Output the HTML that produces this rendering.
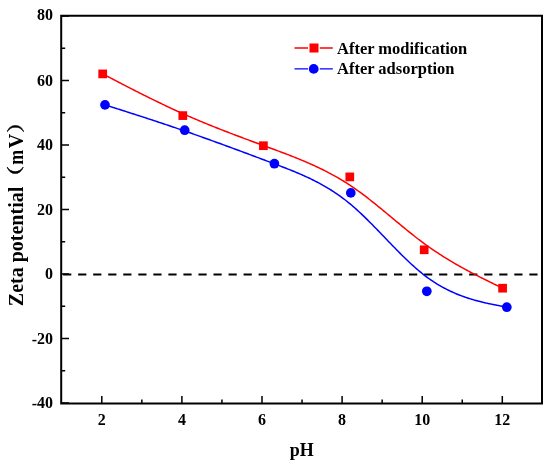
<!DOCTYPE html>
<html><head><meta charset="utf-8"><title>Zeta potential vs pH</title>
<style>
html,body{margin:0;padding:0;background:#fff;width:550px;height:469px;overflow:hidden;}
svg{display:block;}
</style></head><body>
<svg width="550" height="469" viewBox="0 0 550 469">
<line x1="63.1" y1="274.4" x2="541" y2="274.4" stroke="#000" stroke-width="2" stroke-dasharray="8.2 6.84"/>
<path d="M102.70,73.90 L102.70,73.90 L102.70,73.90 L102.70,73.90 L102.70,73.90 L102.71,73.90 L102.71,73.91 L102.72,73.91 L102.73,73.92 L102.75,73.92 L102.77,73.93 L102.79,73.95 L102.81,73.96 L102.84,73.97 L102.88,73.99 L102.92,74.01 L102.97,74.04 L103.02,74.07 L103.08,74.10 L103.15,74.13 L103.22,74.17 L103.30,74.21 L103.39,74.26 L103.49,74.31 L103.60,74.37 L103.72,74.43 L103.84,74.49 L103.98,74.57 L104.13,74.64 L104.29,74.73 L104.46,74.81 L104.64,74.91 L104.83,75.01 L105.04,75.12 L105.25,75.23 L105.49,75.35 L105.73,75.48 L105.99,75.61 L106.27,75.76 L106.56,75.91 L106.86,76.07 L107.18,76.23 L107.52,76.41 L107.87,76.59 L108.24,76.78 L108.62,76.98 L109.03,77.19 L109.45,77.41 L109.89,77.64 L110.35,77.88 L110.83,78.13 L111.32,78.39 L111.84,78.66 L112.38,78.94 L112.94,79.23 L113.51,79.53 L114.12,79.84 L114.74,80.17 L115.38,80.50 L116.05,80.85 L116.74,81.21 L117.45,81.58 L118.19,81.96 L118.95,82.36 L119.72,82.76 L120.52,83.18 L121.34,83.60 L122.18,84.04 L123.04,84.48 L123.92,84.94 L124.82,85.40 L125.74,85.88 L126.68,86.36 L127.63,86.85 L128.60,87.35 L129.59,87.86 L130.60,88.38 L131.62,88.90 L132.66,89.43 L133.71,89.97 L134.78,90.51 L135.86,91.06 L136.96,91.62 L138.08,92.18 L139.20,92.75 L140.34,93.33 L141.49,93.91 L142.66,94.49 L143.84,95.08 L145.03,95.67 L146.23,96.27 L147.44,96.87 L148.66,97.48 L149.89,98.09 L151.13,98.70 L152.38,99.32 L153.64,99.93 L154.91,100.55 L156.19,101.18 L157.48,101.80 L158.77,102.43 L160.07,103.05 L161.38,103.68 L162.69,104.31 L164.01,104.94 L165.33,105.57 L166.66,106.20 L168.00,106.83 L169.34,107.46 L170.68,108.09 L172.03,108.71 L173.38,109.34 L174.73,109.97 L176.08,110.59 L177.44,111.21 L178.80,111.83 L180.16,112.44 L181.52,113.06 L182.88,113.67 L184.25,114.27 L185.61,114.88 L186.97,115.48 L188.33,116.07 L189.69,116.67 L191.06,117.26 L192.42,117.85 L193.79,118.43 L195.15,119.02 L196.51,119.60 L197.88,120.17 L199.24,120.75 L200.61,121.32 L201.98,121.89 L203.34,122.45 L204.71,123.02 L206.08,123.58 L207.45,124.14 L208.81,124.70 L210.18,125.25 L211.55,125.81 L212.92,126.36 L214.30,126.91 L215.67,127.45 L217.04,128.00 L218.42,128.54 L219.79,129.08 L221.17,129.62 L222.54,130.16 L223.92,130.70 L225.30,131.24 L226.68,131.77 L228.06,132.30 L229.44,132.83 L230.82,133.36 L232.20,133.89 L233.59,134.42 L234.97,134.95 L236.36,135.47 L237.75,136.00 L239.14,136.52 L240.53,137.05 L241.92,137.57 L243.31,138.09 L244.70,138.61 L246.10,139.13 L247.50,139.65 L248.89,140.17 L250.29,140.69 L251.69,141.21 L253.10,141.73 L254.50,142.25 L255.90,142.77 L257.31,143.29 L258.72,143.81 L260.13,144.33 L261.54,144.84 L262.95,145.36 L264.37,145.88 L265.78,146.40 L267.20,146.92 L268.62,147.44 L270.04,147.97 L271.46,148.49 L272.89,149.01 L274.31,149.54 L275.73,150.07 L277.16,150.60 L278.59,151.13 L280.02,151.66 L281.44,152.20 L282.87,152.74 L284.30,153.28 L285.73,153.82 L287.16,154.37 L288.60,154.92 L290.03,155.48 L291.46,156.04 L292.89,156.60 L294.32,157.17 L295.75,157.74 L297.18,158.32 L298.61,158.90 L300.04,159.48 L301.47,160.08 L302.90,160.67 L304.33,161.28 L305.76,161.89 L307.18,162.50 L308.61,163.12 L310.03,163.75 L311.46,164.38 L312.88,165.02 L314.30,165.67 L315.72,166.33 L317.14,166.99 L318.56,167.66 L319.97,168.34 L321.39,169.02 L322.80,169.72 L324.21,170.42 L325.61,171.13 L327.02,171.85 L328.42,172.58 L329.83,173.32 L331.22,174.07 L332.62,174.83 L334.01,175.59 L335.41,176.37 L336.80,177.16 L338.18,177.96 L339.56,178.77 L340.95,179.58 L342.32,180.41 L343.70,181.26 L345.07,182.11 L346.44,182.97 L347.80,183.85 L349.16,184.74 L350.52,185.64 L351.87,186.55 L353.22,187.47 L354.57,188.40 L355.92,189.35 L357.26,190.30 L358.60,191.26 L359.93,192.23 L361.27,193.21 L362.60,194.20 L363.93,195.19 L365.25,196.20 L366.58,197.21 L367.90,198.22 L369.22,199.25 L370.53,200.27 L371.85,201.31 L373.16,202.35 L374.47,203.40 L375.78,204.45 L377.08,205.50 L378.39,206.56 L379.69,207.62 L380.99,208.68 L382.29,209.75 L383.59,210.82 L384.89,211.89 L386.19,212.96 L387.48,214.04 L388.77,215.11 L390.07,216.19 L391.36,217.26 L392.65,218.34 L393.94,219.41 L395.23,220.49 L396.52,221.56 L397.81,222.63 L399.09,223.70 L400.38,224.76 L401.67,225.83 L402.96,226.89 L404.24,227.94 L405.53,229.00 L406.81,230.04 L408.10,231.09 L409.39,232.12 L410.67,233.16 L411.96,234.18 L413.25,235.20 L414.54,236.22 L415.83,237.23 L417.12,238.23 L418.40,239.22 L419.70,240.20 L420.99,241.18 L422.28,242.14 L423.57,243.10 L424.87,244.05 L426.16,244.99 L427.46,245.92 L428.75,246.83 L430.05,247.74 L431.35,248.64 L432.64,249.53 L433.94,250.41 L435.23,251.28 L436.52,252.14 L437.81,252.98 L439.09,253.82 L440.37,254.65 L441.65,255.47 L442.92,256.28 L444.19,257.07 L445.46,257.86 L446.72,258.64 L447.97,259.40 L449.22,260.16 L450.46,260.91 L451.69,261.64 L452.92,262.37 L454.14,263.08 L455.35,263.79 L456.55,264.48 L457.75,265.17 L458.93,265.84 L460.11,266.51 L461.27,267.16 L462.43,267.80 L463.57,268.43 L464.70,269.05 L465.82,269.67 L466.93,270.27 L468.03,270.86 L469.11,271.44 L470.18,272.00 L471.23,272.56 L472.28,273.11 L473.30,273.65 L474.32,274.17 L475.31,274.69 L476.29,275.19 L477.26,275.69 L478.21,276.17 L479.14,276.64 L480.05,277.11 L480.95,277.56 L481.83,278.00 L482.69,278.43 L483.53,278.85 L484.35,279.25 L485.16,279.65 L485.94,280.04 L486.70,280.41 L487.44,280.77 L488.16,281.13 L488.86,281.47 L489.53,281.80 L490.19,282.12 L490.82,282.43 L491.43,282.73 L492.01,283.02 L492.58,283.29 L493.13,283.56 L493.65,283.82 L494.16,284.07 L494.65,284.30 L495.11,284.53 L495.56,284.75 L495.99,284.96 L496.41,285.17 L496.80,285.36 L497.18,285.55 L497.54,285.72 L497.89,285.89 L498.22,286.05 L498.53,286.21 L498.83,286.35 L499.11,286.49 L499.38,286.62 L499.63,286.75 L499.87,286.86 L500.10,286.98 L500.31,287.08 L500.52,287.18 L500.70,287.27 L500.88,287.36 L501.05,287.44 L501.20,287.52 L501.35,287.59 L501.48,287.65 L501.61,287.71 L501.72,287.77 L501.83,287.82 L501.92,287.87 L502.01,287.91 L502.09,287.95 L502.16,287.99 L502.23,288.02 L502.29,288.05 L502.34,288.07 L502.39,288.09 L502.43,288.11 L502.46,288.13 L502.49,288.15 L502.52,288.16 L502.54,288.17 L502.55,288.18 L502.57,288.18 L502.58,288.19 L502.59,288.19 L502.59,288.20 L502.60,288.20 L502.60,288.20 L502.60,288.20 L502.60,288.20 L502.60,288.20" fill="none" stroke="#ff0000" stroke-width="1.5"/>
<path d="M105.00,104.90 L105.00,104.90 L105.00,104.90 L105.00,104.90 L105.00,104.90 L105.01,104.90 L105.01,104.90 L105.02,104.91 L105.03,104.91 L105.05,104.91 L105.06,104.92 L105.09,104.93 L105.11,104.94 L105.14,104.95 L105.18,104.96 L105.22,104.97 L105.26,104.98 L105.32,105.00 L105.38,105.02 L105.44,105.04 L105.52,105.06 L105.60,105.09 L105.69,105.12 L105.79,105.15 L105.89,105.18 L106.01,105.22 L106.14,105.26 L106.27,105.30 L106.42,105.35 L106.58,105.40 L106.75,105.45 L106.93,105.51 L107.12,105.57 L107.32,105.64 L107.54,105.71 L107.77,105.78 L108.02,105.86 L108.28,105.94 L108.55,106.03 L108.84,106.12 L109.14,106.21 L109.46,106.32 L109.79,106.42 L110.14,106.53 L110.51,106.65 L110.89,106.77 L111.30,106.90 L111.71,107.03 L112.15,107.17 L112.61,107.32 L113.08,107.47 L113.58,107.62 L114.09,107.79 L114.63,107.96 L115.18,108.13 L115.76,108.32 L116.36,108.51 L116.98,108.70 L117.62,108.91 L118.28,109.12 L118.97,109.33 L119.68,109.56 L120.41,109.79 L121.16,110.03 L121.94,110.28 L122.74,110.53 L123.55,110.79 L124.39,111.06 L125.25,111.33 L126.13,111.61 L127.02,111.90 L127.94,112.19 L128.87,112.49 L129.83,112.79 L130.80,113.10 L131.79,113.42 L132.80,113.74 L133.82,114.07 L134.86,114.41 L135.92,114.75 L136.99,115.09 L138.08,115.44 L139.19,115.80 L140.31,116.16 L141.44,116.53 L142.59,116.90 L143.75,117.28 L144.93,117.66 L146.12,118.05 L147.32,118.44 L148.54,118.84 L149.77,119.24 L151.01,119.65 L152.26,120.06 L153.52,120.48 L154.80,120.90 L156.08,121.32 L157.38,121.75 L158.68,122.18 L160.00,122.62 L161.32,123.06 L162.65,123.50 L164.00,123.95 L165.35,124.40 L166.71,124.86 L168.07,125.32 L169.44,125.78 L170.82,126.25 L172.21,126.72 L173.60,127.19 L175.00,127.66 L176.41,128.14 L177.82,128.62 L179.23,129.11 L180.65,129.59 L182.07,130.08 L183.50,130.57 L184.93,131.07 L186.37,131.57 L187.80,132.07 L189.24,132.57 L190.69,133.07 L192.13,133.58 L193.58,134.09 L195.03,134.60 L196.48,135.11 L197.93,135.62 L199.39,136.14 L200.85,136.66 L202.31,137.18 L203.77,137.70 L205.23,138.22 L206.69,138.75 L208.16,139.27 L209.63,139.80 L211.09,140.33 L212.56,140.86 L214.03,141.39 L215.50,141.92 L216.97,142.46 L218.44,142.99 L219.92,143.53 L221.39,144.06 L222.86,144.60 L224.33,145.14 L225.80,145.68 L227.27,146.22 L228.75,146.76 L230.22,147.30 L231.69,147.84 L233.16,148.39 L234.63,148.93 L236.09,149.47 L237.56,150.02 L239.03,150.56 L240.49,151.10 L241.96,151.65 L243.42,152.19 L244.88,152.73 L246.34,153.28 L247.79,153.82 L249.25,154.37 L250.70,154.91 L252.15,155.45 L253.60,155.99 L255.05,156.54 L256.49,157.08 L257.93,157.62 L259.37,158.16 L260.81,158.70 L262.24,159.24 L263.67,159.78 L265.10,160.31 L266.52,160.85 L267.94,161.38 L269.36,161.92 L270.77,162.45 L272.18,162.98 L273.59,163.51 L274.99,164.04 L276.39,164.57 L277.78,165.10 L279.18,165.63 L280.56,166.16 L281.95,166.69 L283.33,167.23 L284.70,167.76 L286.08,168.29 L287.45,168.83 L288.82,169.37 L290.18,169.92 L291.54,170.46 L292.90,171.02 L294.26,171.57 L295.61,172.13 L296.96,172.70 L298.31,173.27 L299.66,173.84 L301.00,174.42 L302.34,175.01 L303.68,175.60 L305.01,176.20 L306.34,176.81 L307.67,177.43 L309.00,178.05 L310.33,178.69 L311.65,179.33 L312.98,179.98 L314.30,180.64 L315.61,181.31 L316.93,181.99 L318.25,182.68 L319.56,183.38 L320.87,184.09 L322.18,184.82 L323.49,185.56 L324.80,186.30 L326.10,187.07 L327.41,187.84 L328.71,188.63 L330.01,189.43 L331.31,190.25 L332.61,191.08 L333.91,191.92 L335.21,192.79 L336.51,193.66 L337.80,194.55 L339.10,195.46 L340.39,196.39 L341.69,197.33 L342.98,198.29 L344.27,199.27 L345.57,200.26 L346.86,201.28 L348.15,202.31 L349.44,203.36 L350.73,204.43 L352.02,205.52 L353.32,206.63 L354.61,207.76 L355.90,208.91 L357.19,210.07 L358.48,211.25 L359.77,212.45 L361.06,213.66 L362.36,214.88 L363.65,216.12 L364.94,217.37 L366.23,218.63 L367.52,219.90 L368.81,221.18 L370.11,222.47 L371.40,223.78 L372.69,225.08 L373.98,226.40 L375.28,227.72 L376.57,229.05 L377.86,230.39 L379.16,231.72 L380.45,233.06 L381.75,234.41 L383.04,235.76 L384.34,237.10 L385.63,238.45 L386.93,239.80 L388.23,241.15 L389.52,242.50 L390.82,243.84 L392.12,245.18 L393.42,246.52 L394.72,247.85 L396.02,249.18 L397.32,250.50 L398.62,251.82 L399.92,253.12 L401.23,254.42 L402.53,255.71 L403.84,256.99 L405.14,258.26 L406.45,259.52 L407.75,260.77 L409.06,262.00 L410.37,263.23 L411.68,264.43 L412.99,265.62 L414.30,266.80 L415.61,267.96 L416.93,269.11 L418.24,270.23 L419.55,271.34 L420.87,272.43 L422.19,273.49 L423.51,274.54 L424.82,275.57 L426.15,276.57 L427.47,277.55 L428.79,278.51 L430.11,279.44 L431.44,280.35 L432.76,281.24 L434.08,282.10 L435.40,282.95 L436.73,283.77 L438.04,284.57 L439.36,285.35 L440.68,286.11 L441.99,286.84 L443.30,287.56 L444.60,288.26 L445.90,288.94 L447.20,289.60 L448.49,290.24 L449.77,290.86 L451.05,291.46 L452.33,292.05 L453.59,292.62 L454.85,293.17 L456.10,293.70 L457.35,294.22 L458.58,294.72 L459.81,295.20 L461.03,295.67 L462.24,296.13 L463.44,296.57 L464.63,296.99 L465.80,297.40 L466.97,297.80 L468.13,298.18 L469.27,298.55 L470.40,298.91 L471.52,299.25 L472.62,299.59 L473.72,299.90 L474.79,300.21 L475.86,300.51 L476.90,300.79 L477.94,301.07 L478.96,301.33 L479.96,301.59 L480.94,301.83 L481.91,302.07 L482.86,302.29 L483.79,302.51 L484.71,302.72 L485.61,302.92 L486.48,303.11 L487.34,303.30 L488.18,303.48 L489.00,303.65 L489.80,303.81 L490.58,303.97 L491.33,304.12 L492.07,304.27 L492.78,304.41 L493.47,304.55 L494.13,304.68 L494.78,304.81 L495.40,304.93 L496.00,305.05 L496.58,305.17 L497.13,305.28 L497.67,305.39 L498.19,305.49 L498.68,305.59 L499.16,305.68 L499.62,305.77 L500.06,305.86 L500.48,305.94 L500.88,306.02 L501.27,306.10 L501.64,306.17 L501.99,306.24 L502.33,306.31 L502.65,306.37 L502.95,306.43 L503.24,306.49 L503.51,306.55 L503.77,306.60 L504.02,306.65 L504.25,306.69 L504.47,306.74 L504.67,306.78 L504.87,306.82 L505.05,306.85 L505.22,306.89 L505.37,306.92 L505.52,306.95 L505.66,306.97 L505.79,307.00 L505.90,307.02 L506.01,307.04 L506.11,307.06 L506.20,307.08 L506.28,307.10 L506.35,307.11 L506.42,307.12 L506.48,307.14 L506.53,307.15 L506.58,307.16 L506.62,307.16 L506.66,307.17 L506.69,307.18 L506.71,307.18 L506.74,307.19 L506.75,307.19 L506.77,307.19 L506.78,307.20 L506.79,307.20 L506.79,307.20 L506.80,307.20 L506.80,307.20 L506.80,307.20 L506.80,307.20 L506.80,307.20" fill="none" stroke="#0000ff" stroke-width="1.5"/>
<rect x="98.35" y="69.55" width="8.7" height="8.7" fill="#ff0000"/>
<rect x="178.45" y="111.25" width="8.7" height="8.7" fill="#ff0000"/>
<rect x="259.05" y="141.35" width="8.7" height="8.7" fill="#ff0000"/>
<rect x="345.45" y="172.55" width="8.7" height="8.7" fill="#ff0000"/>
<rect x="419.85" y="245.45" width="8.7" height="8.7" fill="#ff0000"/>
<rect x="498.25" y="283.85" width="8.7" height="8.7" fill="#ff0000"/>
<circle cx="105.00" cy="104.90" r="4.85" fill="#0000ff"/>
<circle cx="184.70" cy="130.20" r="4.85" fill="#0000ff"/>
<circle cx="274.40" cy="163.70" r="4.85" fill="#0000ff"/>
<circle cx="350.80" cy="192.90" r="4.85" fill="#0000ff"/>
<circle cx="426.80" cy="291.30" r="4.85" fill="#0000ff"/>
<circle cx="506.80" cy="307.20" r="4.85" fill="#0000ff"/>
<path d="M61.2,403.00H69.0 M61.2,370.75H65.2 M61.2,338.50H69.0 M61.2,306.25H65.2 M61.2,274.00H69.0 M61.2,241.75H65.2 M61.2,209.50H69.0 M61.2,177.25H65.2 M61.2,145.00H69.0 M61.2,112.75H65.2 M61.2,80.50H69.0 M61.2,48.25H65.2 M61.2,16.00H69.0 M101.80,403.5V396.0 M141.85,403.5V399.5 M181.90,403.5V396.0 M221.95,403.5V399.5 M262.00,403.5V396.0 M302.05,403.5V399.5 M342.10,403.5V396.0 M382.15,403.5V399.5 M422.20,403.5V396.0 M462.25,403.5V399.5 M502.30,403.5V396.0" stroke="#000" stroke-width="1.5" fill="none"/>
<path d="M61.2,15.7H542V403.5H61.2Z" fill="none" stroke="#000" stroke-width="2" stroke-linejoin="miter"/>
<g font-family="'Liberation Serif', serif" font-weight="bold" font-size="16">
<text transform="translate(53,408.00) scale(1,1.06)" text-anchor="end"><tspan dy="1.3">-</tspan><tspan dy="-1.3">40</tspan></text>
<text transform="translate(53,343.50) scale(1,1.06)" text-anchor="end"><tspan dy="1.3">-</tspan><tspan dy="-1.3">20</tspan></text>
<text transform="translate(53,279.00) scale(1,1.06)" text-anchor="end">0</text>
<text transform="translate(53,214.50) scale(1,1.06)" text-anchor="end">20</text>
<text transform="translate(53,150.00) scale(1,1.06)" text-anchor="end">40</text>
<text transform="translate(53,85.50) scale(1,1.06)" text-anchor="end">60</text>
<text transform="translate(53,20.00) scale(1,1.06)" text-anchor="end">80</text>
<text transform="translate(101.80,425.2) scale(1,1.06)" text-anchor="middle">2</text>
<text transform="translate(181.90,425.2) scale(1,1.06)" text-anchor="middle">4</text>
<text transform="translate(262.00,425.2) scale(1,1.06)" text-anchor="middle">6</text>
<text transform="translate(342.10,425.2) scale(1,1.06)" text-anchor="middle">8</text>
<text transform="translate(422.20,425.2) scale(1,1.06)" text-anchor="middle">10</text>
<text transform="translate(502.30,425.2) scale(1,1.06)" text-anchor="middle">12</text>
</g>
<text transform="translate(301.7,456.3) scale(0.9,0.97)" text-anchor="middle" font-size="20" font-family="'Liberation Serif', serif" font-weight="bold">pH</text>
<g transform="translate(23,0) rotate(-90)" font-size="20" font-family="'Liberation Serif', serif" font-weight="bold">
<text x="-306.2" y="0">Zeta potential</text>
<text transform="translate(-187.8,-1.33) scale(1.1,0.863)" stroke="#000" stroke-width="0.35" font-family="'Liberation Serif', 'Noto Serif CJK SC', serif">（</text>
<text transform="translate(-164.7,0) scale(0.893,1)">m</text>
<text x="-148.3" y="0">V</text>
<text transform="translate(-132.9,-1.07) scale(1.1,0.89)" stroke="#000" stroke-width="0.35" font-family="'Liberation Serif', 'Noto Serif CJK SC', serif">）</text>
</g>
<path d="M294.5,48H308M319.8,48H332.8" stroke="#ff0000" stroke-width="1.4"/>
<rect x="309.5" y="43.5" width="9" height="9" fill="#ff0000"/>
<path d="M294.5,68.9H308M319.8,68.9H332.8" stroke="#0000ff" stroke-width="1.4"/>
<circle cx="313.7" cy="68.9" r="4.9" fill="#0000ff"/>
<g font-family="'Liberation Serif', serif" font-weight="bold" font-size="16.5">
<text transform="translate(337,53.6) scale(1,1.06)">After modification</text>
<text transform="translate(337,74.2) scale(1,1.06)">After adsorption</text>
</g>
</svg>
</body></html>
